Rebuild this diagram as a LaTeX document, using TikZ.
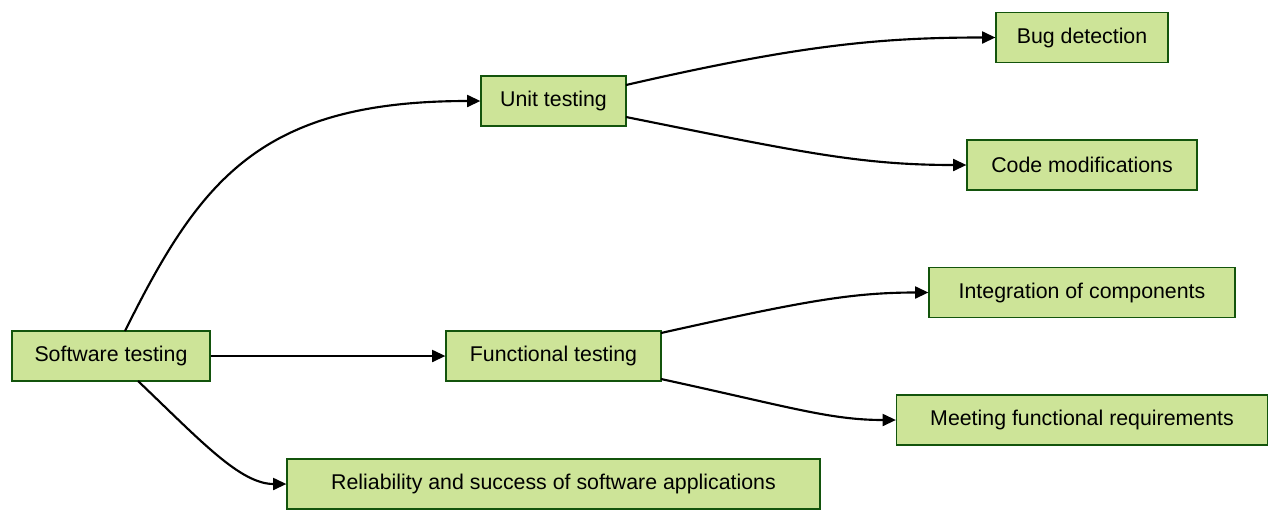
\documentclass[tikz,border=0pt]{standalone}
\usepackage{fontspec}
\setmainfont{Liberation Sans}
\usetikzlibrary{arrows.meta}
\definecolor{nfill}{HTML}{CDE498}
\definecolor{nline}{HTML}{13540C}
\begin{document}
\begin{tikzpicture}[x=0.75pt,y=-0.75pt,
 box/.style={draw=nline,fill=nfill,line width=0.9pt,minimum height=37.5pt,inner sep=0pt,font=\fontsize{16}{19}\selectfont},
 ar/.style={line width=1.6pt,-{Triangle[length=10pt,width=9pt]}}]
\useasboundingbox (0,0) rectangle (1280,522);
\node[box,minimum width=148.5pt] (s) at (111,356) {Software testing};
\node[box,minimum width=108.75pt] (u) at (553.5,101) {Unit testing};
\node[box,minimum width=161.25pt] (f) at (553.5,356) {Functional testing};
\node[box,minimum width=399.75pt] (r) at (553.5,484) {Reliability and success of software applications};
\node[box,minimum width=129pt] (b) at (1082,37.5) {Bug detection};
\node[box,minimum width=172.5pt] (c) at (1082,165) {Code modifications};
\node[box,minimum width=229.5pt] (i) at (1082,292.5) {Integration of components};
\node[box,minimum width=278.25pt] (m) at (1082,420) {Meeting functional requirements};
\coordinate (s1) at (125,331);
\coordinate (s2) at (138,381);
\draw[ar] (s1) .. controls (200,180) and (260,101) .. (u.west);
\draw[ar] (s.east) -- (f.west);
\draw[ar] (s2) .. controls (200,440) and (240,484) .. (r.west);
\coordinate (u1) at (626,85);
\coordinate (u2) at (626,117);
\draw[ar] (u1) .. controls (800,45) and (880,37.5) .. (b.west);
\draw[ar] (u2) .. controls (800,152) and (860,165) .. (c.west);
\coordinate (f1) at (661,333);
\coordinate (f2) at (661,379);
\draw[ar] (f1) .. controls (800,302) and (850,292.5) .. (i.west);
\draw[ar] (f2) .. controls (790,407) and (830,420) .. (m.west);
\end{tikzpicture}
\end{document}
